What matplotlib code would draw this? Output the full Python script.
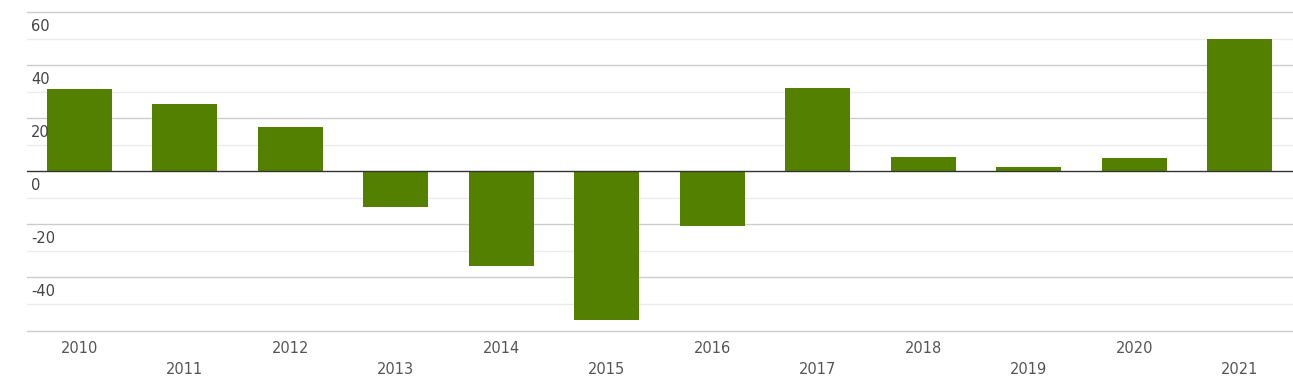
import numpy as np
import matplotlib
matplotlib.use("Agg")
import matplotlib.pyplot as plt

# ---- data ----
years  = ["2010", "2011", "2012", "2013", "2014", "2015",
          "2016", "2017", "2018", "2019", "2020", "2021"]
values = [30.9, 25.3, 16.6, -13.6, -35.8, -56.2,
          -20.8, 31.3, 5.3, 1.5, 4.9, 49.8]
y_major = [-60, -40, -20, 0, 20, 40, 60]
y_minor = [-50, -30, -10, 10, 30, 50]

bar_color = "#548000"
text_color = "#444444"

fig = plt.figure(figsize=(12.93, 3.84), dpi=100)
ax = fig.add_axes([26.5 / 1293, 1 - 330.5 / 384, 1266 / 1293, 318.5 / 384])

x = np.arange(len(years))
ax.bar(x, values, width=0.62, color=bar_color, zorder=3)

ax.set_xlim(-0.5, len(years) - 0.5)
ax.set_ylim(-60, 60)

# grid lines
for v in y_minor:
    ax.axhline(v, color="#ebebeb", lw=1, zorder=1)
for v in y_major:
    if v != 0:
        ax.axhline(v, color="#cccccc", lw=1, zorder=1, clip_on=False)
ax.axhline(0, color="#333333", lw=1, zorder=4)

# y labels drawn inside the plot, just below each gridline
for v in y_major[1:]:
    ax.annotate(str(v), xy=(0, v), xycoords=("axes fraction", "data"),
                xytext=(3.5, -4.8), textcoords="offset points",
                ha="left", va="top", fontsize=10.5, color=text_color)

# x labels in two staggered rows
for i, yr in enumerate(years):
    off = -12.8 if i % 2 == 0 else -27.8
    ax.annotate(yr, xy=(i, 0), xycoords=("data", "axes fraction"),
                xytext=(0, off), textcoords="offset points",
                ha="center", va="center", fontsize=10.5, color="#555555")

ax.set_xticks([])
ax.set_yticks([])
for s in ax.spines.values():
    s.set_visible(False)

fig.savefig("out.png", dpi=100)
